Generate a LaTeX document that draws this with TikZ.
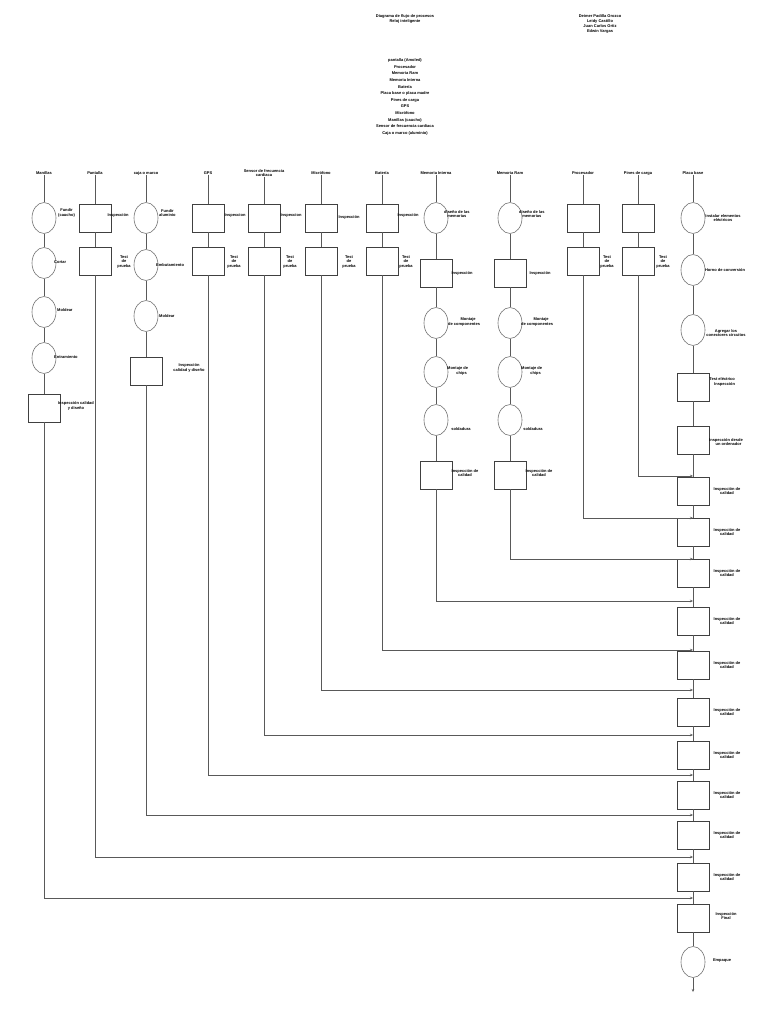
\documentclass[tikz,border=0pt]{standalone}
\usepackage{fontspec}
\setmainfont{Liberation Sans}
\usetikzlibrary{shapes.geometric,arrows.meta}
\begin{document}
\begin{tikzpicture}[x=1pt,y=-1pt,
  every node/.style={font=\fontsize{4}{4.7}\selectfont\bfseries,align=center,inner sep=0pt},
  op/.style={ellipse,draw=black!55,fill=white,line width=0.6pt,minimum width=24pt,minimum height=31pt},
  insp/.style={rectangle,draw=black!75,fill=white,line width=0.8pt,minimum width=32pt,minimum height=28pt},
  lab/.style={anchor=west},
  ln/.style={draw=black!65,line width=0.8pt},
  arr/.style={ln,-{Stealth[length=3pt,width=2.5pt]}}]
\useasboundingbox (0,0) rectangle (768,1024);
% header
\node (h1) at (405,19) {Diagrama de flujo de procesos\\Reloj inteligente};
\node (h2) at (600,24) {Deimer Padilla Orozco\\Leidy Castillo\\Juan Carlos Ortiz\\Edwin Vargas};
\node[font=\fontsize{4}{6.6}\selectfont\bfseries] (h3) at (405,97) {pantalla (Amoled)\\Procesador\\Memoria Ram\\Memoria Interna\\Batería\\Placa base o placa madre\\Pines de carga\\GPS\\Micrófono\\Manillas (caucho)\\Sensor de frecuencia cardiaca\\Caja o marco (aluminio)};
% titles
\node (t1) at (44,173) {Manillas};
\node (t2) at (95,173) {Pantalla};
\node (t3) at (146,173) {caja o marco};
\node (t4) at (208,173) {GPS};
\node (t5) at (264,173) {Sensor de frecuencia\\cardiaca};
\node (t6) at (321,173) {Micrófono};
\node (t7) at (382,173) {Batería};
\node (t8) at (436,173) {Memoria Interna};
\node (t9) at (510,173) {Memoria Ram};
\node (t10) at (583,173) {Procesador};
\node (t11) at (638,173) {Pines de carga};
\node (t12) at (693,173) {Placa base};
% Manillas
\node[op] (a1) at (44,218) {}; \node[lab] at (58,213) {Fundir\\(caucho)};
\node[op] (a2) at (44,263) {}; \node[lab] at (54,262) {Cortar};
\node[op] (a3) at (44,312) {}; \node[lab] at (57,310) {Moldear};
\node[op] (a4) at (44,358) {}; \node[lab] at (54,357) {Entramiento};
\node[insp] (a5) at (44,408) {}; \node at (76,406) {Inspección calidad\\y diseño};
\coordinate (ae) at (44,898);
% Pantalla
\node[insp] (b1) at (95,218) {}; \node at (118,215) {Inspección};
\node[insp] (b2) at (95,261) {}; \node at (124,262) {Test\\de\\prueba};
\coordinate (be) at (95,857);
% caja
\node[op] (c1) at (146,218) {}; \node[lab] at (159,213) {Fundir\\aluminio};
\node[op] (c2) at (146,265) {}; \node[lab] at (156,265) {Embutamiento};
\node[op] (c3) at (146,316) {}; \node[lab] at (159,316) {Moldear};
\node[insp] (c4) at (146,371) {}; \node at (189,368) {Inspección\\calidad y diseño};
\coordinate (ce) at (146,815);
% GPS
\node[insp] (d1) at (208,218) {}; \node at (235,215) {Inspeccion};
\node[insp] (d2) at (208,261) {}; \node at (234,262) {Test\\de\\prueba};
\coordinate (de) at (208,775);
% Sensor
\node[insp] (e1) at (264,218) {}; \node at (291,215) {Inspeccion};
\node[insp] (e2) at (264,261) {}; \node at (290,262) {Test\\de\\prueba};
\coordinate (ee) at (264,735);
% Microfono
\node[insp] (f1) at (321,218) {}; \node at (349,217) {Inspección};
\node[insp] (f2) at (321,261) {}; \node at (349,262) {Test\\de\\prueba};
\coordinate (fe) at (321,690);
% Bateria
\node[insp] (g1) at (382,218) {}; \node at (408,215) {Inspección};
\node[insp] (g2) at (382,261) {}; \node at (406,262) {Test\\de\\prueba};
\coordinate (ge) at (382,650);
% Memoria interna
\node[op] (i1) at (436,218) {}; \node[lab] at (444,214) {diseño de las\\memorias};
\node[insp] (i2) at (436,273) {}; \node at (462,273) {Inspección};
\node[op] (i3) at (436,323) {}; \node[lab] at (448,322) {\hspace*{8pt}Montaje\\de componentes};
\node[op] (i4) at (436,372) {}; \node[lab] at (447,371) {Montaje de\\\hspace*{8pt}chips};
\node[op] (i5) at (436,420) {}; \node at (461,429) {soldadura};
\node[insp] (i6) at (436,475) {}; \node at (465,473) {Inspección de\\calidad};
\coordinate (ie) at (436,601);
% Memoria ram
\node[op] (r1) at (510,218) {}; \node[lab] at (519,214) {diseño de las\\memorias};
\node[insp] (r2) at (510,273) {}; \node at (540,273) {Inspección};
\node[op] (r3) at (510,323) {}; \node[lab] at (521,322) {\hspace*{8pt}Montaje\\de componentes};
\node[op] (r4) at (510,372) {}; \node[lab] at (521,371) {Montaje de\\\hspace*{8pt}chips};
\node[op] (r5) at (510,420) {}; \node at (533,429) {soldadura};
\node[insp] (r6) at (510,475) {}; \node at (539,473) {Inspección de\\calidad};
\coordinate (re) at (510,559);
% Procesador
\node[insp] (p1) at (583,218) {};
\node[insp] (p2) at (583,261) {}; \node at (607,262) {Test\\de\\prueba};
\coordinate (pe) at (583,518);
% Pines
\node[insp] (q1) at (638,218) {};
\node[insp] (q2) at (638,261) {}; \node at (663,262) {Test\\de\\prueba};
\coordinate (qe) at (638,476);
% Placa base
\node[op] (z1) at (693,218) {}; \node at (723,218) {Instalar elementos\\eléctricos};
\node[op] (z2) at (693,270) {}; \node at (725,270) {Horno de conversión};
\node[op] (z3) at (693,330) {}; \node at (726,333) {Agregar los\\conectores circuitos};
\node[insp] (z4) at (693,387) {}; \node[lab] at (709,382) {Test eléctrico\\\hspace*{5pt}Inspección};
\node[insp] (z5) at (693,440) {}; \node[lab] at (709,442) {Inspección desde\\\hspace*{5pt}un ordenador};
\foreach \n/\y in {6/491,7/532,8/573,9/621,10/665,11/712,12/755,13/795,14/835,15/877}
  {\node[insp] (z\n) at (693,\y) {}; \node at (727,\y) {Inspección de\\calidad};}
\node[insp] (z16) at (693,918) {}; \node at (726,916) {Inspección\\Final};
\node[op] (z17) at (693,962) {}; \node at (722,961) {Empaque};
\coordinate (zend) at (693,992);
% vertical chains
\draw[ln] (t1) -- (a1) -- (a2) -- (a3) -- (a4) -- (a5) -- (ae);
\draw[ln] (t2) -- (b1) -- (b2) -- (be);
\draw[ln] (t3) -- (c1) -- (c2) -- (c3) -- (c4) -- (ce);
\draw[ln] (t4) -- (d1) -- (d2) -- (de);
\draw[ln] (t5) -- (e1) -- (e2) -- (ee);
\draw[ln] (t6) -- (f1) -- (f2) -- (fe);
\draw[ln] (t7) -- (g1) -- (g2) -- (ge);
\draw[ln] (t8) -- (i1) -- (i2) -- (i3) -- (i4) -- (i5) -- (i6) -- (ie);
\draw[ln] (t9) -- (r1) -- (r2) -- (r3) -- (r4) -- (r5) -- (r6) -- (re);
\draw[ln] (t10) -- (p1) -- (p2) -- (pe);
\draw[ln] (t11) -- (q1) -- (q2) -- (qe);
\draw[ln] (t12) -- (z1) -- (z2) -- (z3) -- (z4) -- (z5) -- (z6) -- (z7) -- (z8) -- (z9) -- (z10) -- (z11) -- (z12) -- (z13) -- (z14) -- (z15) -- (z16) -- (z17);
\draw[arr] (z17) -- (zend);
% horizontal arrows
\foreach \c in {ae,be,ce,de,ee,fe,ge,ie,re,pe,qe}
  \draw[arr] (\c) -- (\c -| z1);
\end{tikzpicture}
\end{document}
